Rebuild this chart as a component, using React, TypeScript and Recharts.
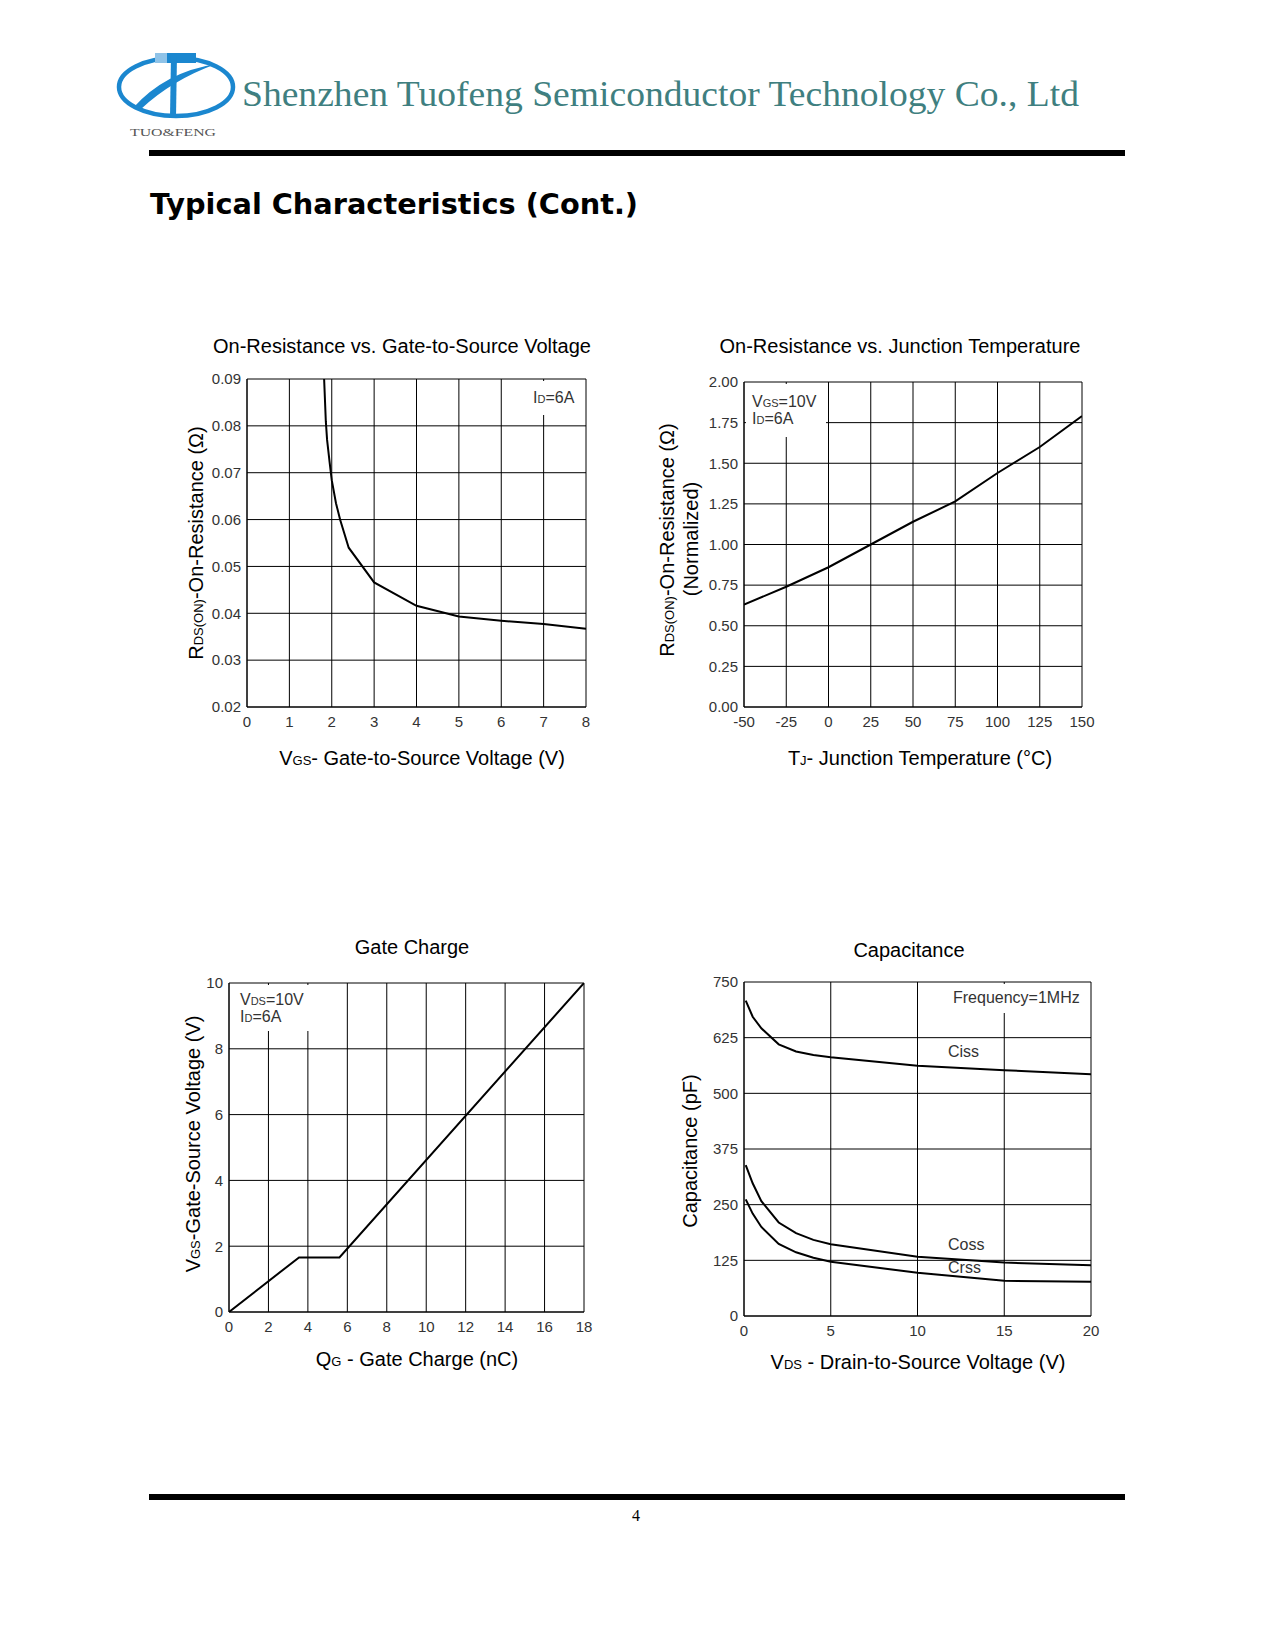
import React from 'react';
import { LineChart, Line, XAxis, YAxis, CartesianGrid } from 'recharts';

// On-resistance vs gate-to-source voltage (ID = 6A)
const vgsVolts = [1.82, 1.86, 1.89, 1.95, 2.0, 2.1, 2.2, 2.4, 3.0, 4.0, 5.0, 6.0, 7.0, 8.0];
const rdsOn = [0.09, 0.081, 0.077, 0.0722, 0.0684, 0.0635, 0.0599, 0.054, 0.0466, 0.0416, 0.0393, 0.0384, 0.0377, 0.0367];

// On-resistance (normalized) vs junction temperature
const tjC = [-50, -25, 0, 25, 50, 75, 100, 125, 150];
const rdsNorm = [0.63, 0.74, 0.86, 1.0, 1.14, 1.265, 1.44, 1.6, 1.79];

// Gate charge
const qgNc = [0, 3.55, 5.6, 18];
const vgsGate = [0, 1.66, 1.66, 10];

// Capacitance vs drain-to-source voltage
const vdsVolts = [0.1, 0.5, 1, 2, 3, 4, 5, 10, 15, 20];
const ciss = [708, 672, 646, 610, 594, 586, 581, 562, 552, 543];
const coss = [339, 298, 258, 210, 186, 171, 161, 133, 120, 114];
const crss = [262, 230, 200, 162, 143, 131, 122, 97, 79, 77];

// tick labels
const xTicks1 = [0, 1, 2, 3, 4, 5, 6, 7, 8];
const yTicks1 = [0.02, 0.03, 0.04, 0.05, 0.06, 0.07, 0.08, 0.09];
const xTicks2 = [-50, -25, 0, 25, 50, 75, 100, 125, 150];
const yTicks2 = [0, 0.25, 0.5, 0.75, 1.0, 1.25, 1.5, 1.75, 2.0];
const xTicks3 = [0, 2, 4, 6, 8, 10, 12, 14, 16, 18];
const yTicks3 = [0, 2, 4, 6, 8, 10];
const xTicks4 = [0, 5, 10, 15, 20];
const yTicks4 = [0, 125, 250, 375, 500, 625, 750];

const rdsData = vgsVolts.map((v, i) => ({ x: v, r: rdsOn[i] }));
const tempData = tjC.map((t, i) => ({ x: t, r: rdsNorm[i] }));
const gateData = qgNc.map((q, i) => ({ x: q, v: vgsGate[i] }));
const capData = vdsVolts.map((v, i) => ({ x: v, ciss: ciss[i], coss: coss[i], crss: crss[i] }));

const SANS = '"Liberation Sans", Arial, sans-serif';
const SERIF = '"Liberation Serif", "Times New Roman", serif';

const Y_W = 60;
const TOP = 10;
const RIGHT = 20;
const X_H = 30;

type Plot = { x: number; y: number; w: number; h: number };

function Panel(props: {
  plot: Plot;
  data: any[];
  keys: string[];
  xDomain: [number, number];
  xTicks: number[];
  yDomain: [number, number];
  yTicks: number[];
  yFmt?: (v: number) => string;
}) {
  const { plot, data, keys, xDomain, xTicks, yDomain, yTicks, yFmt } = props;
  const tick = { fill: '#333', fontSize: 15, fontFamily: SANS };
  return (
    <div style={{ position: 'absolute', left: plot.x - Y_W, top: plot.y - TOP }}>
      <LineChart
        width={plot.w + Y_W + RIGHT}
        height={plot.h + TOP + X_H}
        data={data}
        margin={{ top: TOP, right: RIGHT, bottom: 0, left: 0 }}
      >
        <CartesianGrid stroke="#000" strokeWidth={1} fill="none" />
        <XAxis
          type="number"
          dataKey="x"
          domain={xDomain}
          ticks={xTicks}
          interval={0}
          allowDataOverflow
          height={X_H}
          axisLine={{ stroke: '#000' }}
          tickLine={false}
          tickSize={0}
          tickMargin={9}
          tick={tick}
        />
        <YAxis
          type="number"
          domain={yDomain}
          ticks={yTicks}
          interval={0}
          allowDataOverflow
          width={Y_W}
          axisLine={{ stroke: '#000' }}
          tickLine={false}
          tickSize={0}
          tickMargin={6}
          tick={tick}
          tickFormatter={yFmt}
        />
        {keys.map((k) => (
          <Line
            key={k}
            dataKey={k}
            type="linear"
            stroke="#000"
            strokeWidth={2}
            dot={false}
            activeDot={false}
            isAnimationActive={false}
          />
        ))}
      </LineChart>
    </div>
  );
}

function Sub({ children, size = 13 }: { children: React.ReactNode; size?: number }) {
  return <tspan fontSize={size}>{children}</tspan>;
}

function Overlay() {
  const t = { fontFamily: SANS, fill: '#000', fontSize: 20 } as const;
  const note = { fontFamily: SANS, fill: '#333', fontSize: 16 } as const;
  return (
    <svg
      width={1275}
      height={1650}
      style={{ position: 'absolute', left: 0, top: 0, pointerEvents: 'none' }}
    >
      {/* logo */}
      <g>
        <ellipse cx={176} cy={87} rx={57} ry={29} fill="none" stroke="#1b87cf" strokeWidth={4.5} />
        <rect x={155} y={53} width={12} height={10} fill="#8fc3e8" />
        <rect x={167} y={53} width={29} height={10} fill="#1b87cf" />
        <polygon points="171,55 177,55 176,117 170,117" fill="#1b87cf" />
        <path d="M133,108 Q165,72 216,64 Q172,80 141,109 Z" fill="#1b87cf" />
        <text x={130} y={136} fontFamily={SERIF} fontSize={11} fill="#555" textLength={86} lengthAdjust="spacingAndGlyphs">
          TUO&amp;FENG
        </text>
      </g>
      <text x={242} y={106} fontFamily={SERIF} fontSize={36} fill="#3f7f80" textLength={837} lengthAdjust="spacingAndGlyphs">
        Shenzhen Tuofeng Semiconductor Technology Co., Ltd
      </text>
      <rect x={149} y={150} width={976} height={6} fill="#000" />
      <text x={150} y={214} fontFamily='"DejaVu Sans", Verdana, sans-serif' fontWeight="bold" fontSize={29} fill="#000" textLength={488} lengthAdjust="spacingAndGlyphs">
        Typical Characteristics (Cont.)
      </text>
      <rect x={149} y={1494} width={976} height={6} fill="#000" />
      <text x={636} y={1521} fontFamily={SERIF} fontSize={16} fill="#000" textAnchor="middle">
        4
      </text>

      {/* chart 1 */}
      <text {...t} x={402} y={353} textAnchor="middle">
        On-Resistance vs. Gate-to-Source Voltage
      </text>
      <text {...t} x={422} y={765} textAnchor="middle">
        V<Sub>GS</Sub>- Gate-to-Source Voltage (V)
      </text>
      <text {...t} textAnchor="middle" transform="translate(203,543) rotate(-90)">
        R<Sub>DS(ON)</Sub>-On-Resistance (Ω)
      </text>
      <rect x={533} y={381} width={51} height={34} fill="#fff" />
      <text {...note} x={533} y={403}>
        I<Sub size={11}>D</Sub>=6A
      </text>

      {/* chart 2 */}
      <text {...t} x={900} y={353} textAnchor="middle">
        On-Resistance vs. Junction Temperature
      </text>
      <text {...t} x={920} y={765} textAnchor="middle">
        T<Sub>J</Sub>- Junction Temperature (°C)
      </text>
      <text {...t} textAnchor="middle" transform="translate(674,540) rotate(-90)">
        R<Sub>DS(ON)</Sub>-On-Resistance (Ω)
      </text>
      <text {...t} textAnchor="middle" transform="translate(698,539) rotate(-90)">
        (Normalized)
      </text>
      <rect x={746} y={384} width={80} height={53} fill="#fff" />
      <text {...note} x={752} y={407}>
        V<Sub size={11}>GS</Sub>=10V
      </text>
      <text {...note} x={752} y={424}>
        I<Sub size={11}>D</Sub>=6A
      </text>

      {/* chart 3 */}
      <text {...t} x={412} y={954} textAnchor="middle">
        Gate Charge
      </text>
      <text {...t} x={417} y={1366} textAnchor="middle">
        Q<Sub>G</Sub> - Gate Charge (nC)
      </text>
      <text {...t} textAnchor="middle" transform="translate(200,1144) rotate(-90)">
        V<Sub>GS</Sub>-Gate-Source Voltage (V)
      </text>
      <rect x={231} y={985} width={87} height={46} fill="#fff" />
      <text {...note} x={240} y={1005}>
        V<Sub size={11}>DS</Sub>=10V
      </text>
      <text {...note} x={240} y={1022}>
        I<Sub size={11}>D</Sub>=6A
      </text>

      {/* chart 4 */}
      <text {...t} x={909} y={957} textAnchor="middle">
        Capacitance
      </text>
      <text {...t} x={918} y={1369} textAnchor="middle">
        V<Sub>DS</Sub> - Drain-to-Source Voltage (V)
      </text>
      <text {...t} textAnchor="middle" transform="translate(697,1151) rotate(-90)">
        Capacitance (pF)
      </text>
      <rect x={950} y={984} width={139} height={29} fill="#fff" />
      <text {...note} x={953} y={1003}>
        Frequency=1MHz
      </text>
      <text {...note} x={948} y={1057}>
        Ciss
      </text>
      <text {...note} x={948} y={1250}>
        Coss
      </text>
      <text {...note} x={948} y={1273}>
        Crss
      </text>
    </svg>
  );
}

export default function App() {
  return (
    <div style={{ position: 'absolute', left: 0, top: 0, width: 1275, height: 1650, background: '#fff' }}>
      <Panel
        plot={{ x: 247, y: 379, w: 339, h: 328 }}
        data={rdsData}
        keys={['r']}
        xDomain={[0, 8]}
        xTicks={xTicks1}
        yDomain={[0.02, 0.09]}
        yTicks={yTicks1}
        yFmt={(v) => v.toFixed(2)}
      />
      <Panel
        plot={{ x: 744, y: 382, w: 338, h: 325 }}
        data={tempData}
        keys={['r']}
        xDomain={[-50, 150]}
        xTicks={xTicks2}
        yDomain={[0, 2]}
        yTicks={yTicks2}
        yFmt={(v) => v.toFixed(2)}
      />
      <Panel
        plot={{ x: 229, y: 983, w: 355, h: 329 }}
        data={gateData}
        keys={['v']}
        xDomain={[0, 18]}
        xTicks={xTicks3}
        yDomain={[0, 10]}
        yTicks={yTicks3}
      />
      <Panel
        plot={{ x: 744, y: 982, w: 347, h: 334 }}
        data={capData}
        keys={['ciss', 'coss', 'crss']}
        xDomain={[0, 20]}
        xTicks={xTicks4}
        yDomain={[0, 750]}
        yTicks={yTicks4}
      />
      <Overlay />
    </div>
  );
}
